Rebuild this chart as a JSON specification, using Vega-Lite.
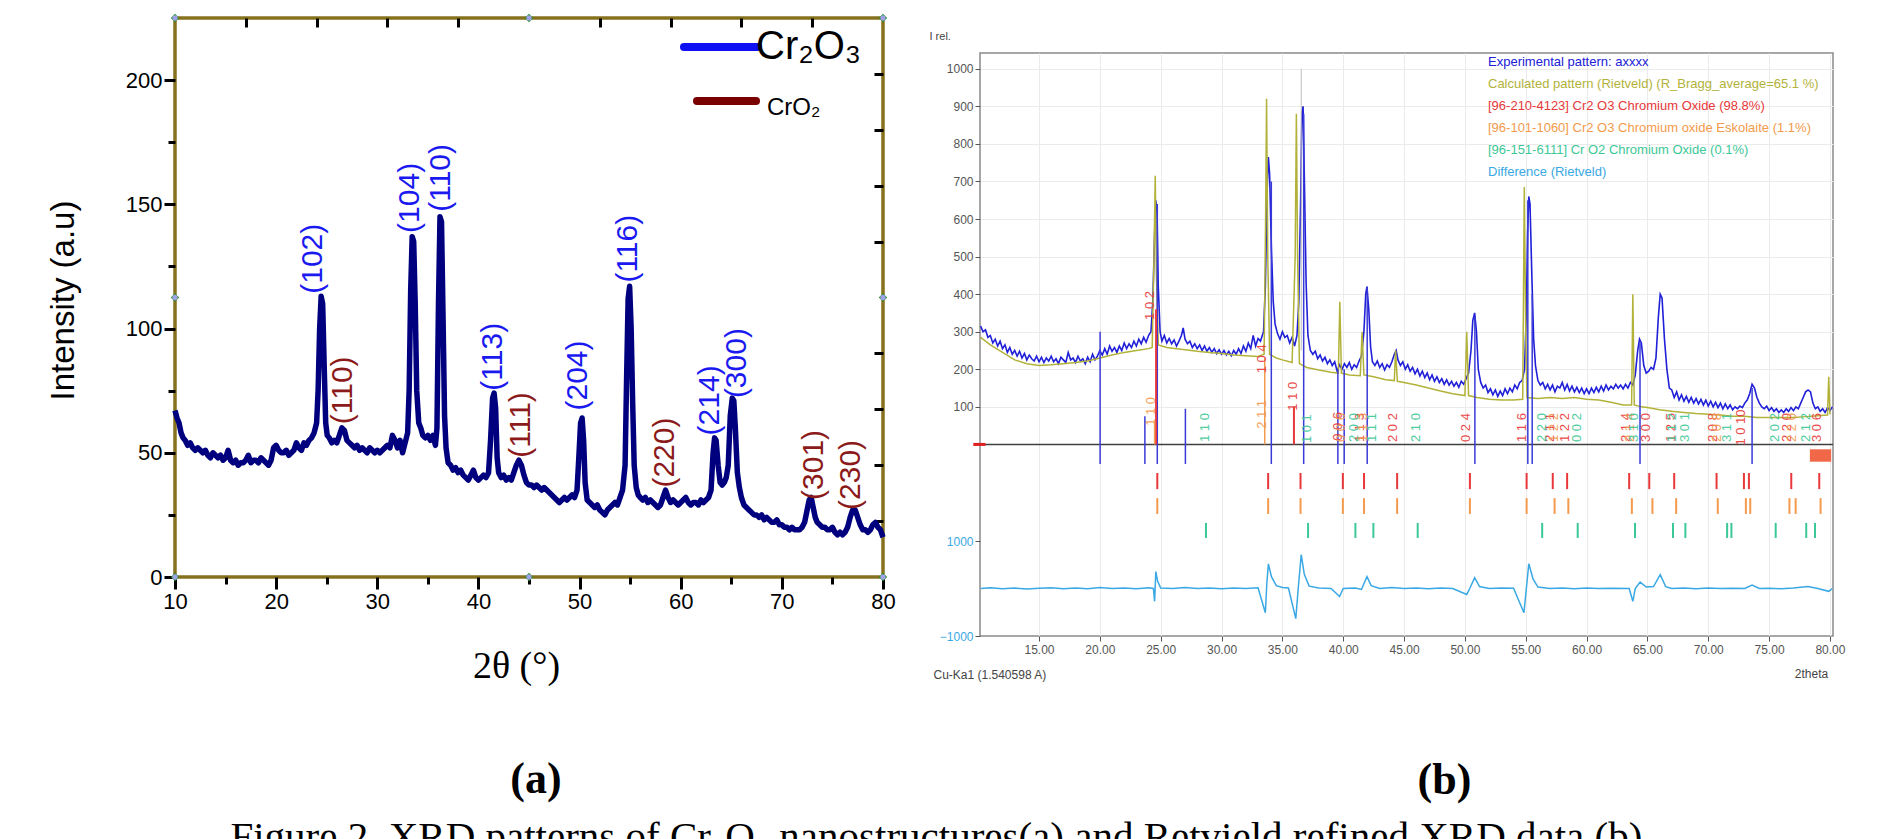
{
"$schema": "https://vega.github.io/schema/vega-lite/v6.json",
"background": "white",
"padding": {"left": 45, "top": 12, "right": 0, "bottom": 0},
"config": {"view": {"stroke": null}, "font": "Liberation Sans", "axis": {"labelFlush": false}},
"bounds": "flush",
"spacing": 97,
"resolve": {"scale": {"color": "independent"}, "legend": {"color": "independent"}},
"title": {"text": "Figure 2. XRD patterns of Cr₂O₃ nanostructures(a) and Retvield refined XRD data (b).", "orient": "bottom", "anchor": "middle", "font": "Liberation Serif", "fontSize": 41, "fontWeight": "normal", "color": "black", "offset": 14, "dx": -4},
"datasets": {
"a_xrd": [
{"t":10.0,"i":67},{"t":10.2,"i":64},{"t":10.4,"i":62},{"t":10.6,"i":58},{"t":10.8,"i":56},{"t":11.0,"i":55},{"t":11.25,"i":53},{"t":11.5,"i":54},{"t":11.75,"i":52},{"t":12.0,"i":51},{"t":12.25,"i":52},{"t":12.5,"i":51},{"t":12.75,"i":50},{"t":13.0,"i":51},{"t":13.25,"i":49},{"t":13.5,"i":48},{"t":13.75,"i":50},{"t":14.0,"i":49},{"t":14.25,"i":48},{"t":14.5,"i":49},{"t":14.75,"i":47},{"t":15.0,"i":48},{"t":15.25,"i":51},{"t":15.5,"i":47},{"t":15.75,"i":46},{"t":16.0,"i":47},{"t":16.25,"i":45},{"t":16.5,"i":46},{"t":16.75,"i":46},{"t":17.0,"i":47},{"t":17.25,"i":49},{"t":17.5,"i":46},{"t":17.75,"i":47},{"t":18.0,"i":47},{"t":18.25,"i":46},{"t":18.5,"i":48},{"t":18.75,"i":47},{"t":19.0,"i":46},{"t":19.25,"i":45},{"t":19.5,"i":47},{"t":19.75,"i":52},{"t":20.0,"i":53},{"t":20.25,"i":51},{"t":20.5,"i":50},{"t":20.75,"i":50},{"t":21.0,"i":51},{"t":21.25,"i":49},{"t":21.5,"i":50},{"t":21.75,"i":51},{"t":22.0,"i":54},{"t":22.25,"i":52},{"t":22.5,"i":51},{"t":22.75,"i":54},{"t":23.0,"i":53},{"t":23.25,"i":55},{"t":23.5,"i":56},{"t":23.75,"i":58},{"t":24.0,"i":62},{"t":24.15,"i":75},{"t":24.3,"i":100},{"t":24.45,"i":113},{"t":24.6,"i":110},{"t":24.75,"i":85},{"t":24.9,"i":62},{"t":25.05,"i":57},{"t":25.25,"i":56},{"t":25.5,"i":54},{"t":25.75,"i":55},{"t":26.0,"i":54},{"t":26.25,"i":57},{"t":26.5,"i":60},{"t":26.75,"i":59},{"t":27.0,"i":55},{"t":27.25,"i":54},{"t":27.5,"i":53},{"t":27.75,"i":52},{"t":28.0,"i":53},{"t":28.25,"i":51},{"t":28.5,"i":52},{"t":28.75,"i":51},{"t":29.0,"i":50},{"t":29.25,"i":52},{"t":29.5,"i":51},{"t":29.75,"i":50},{"t":30.0,"i":51},{"t":30.25,"i":50},{"t":30.5,"i":51},{"t":30.75,"i":52},{"t":31.0,"i":53},{"t":31.25,"i":52},{"t":31.5,"i":57},{"t":31.75,"i":55},{"t":32.0,"i":52},{"t":32.25,"i":55},{"t":32.5,"i":50},{"t":32.75,"i":54},{"t":33.0,"i":58},{"t":33.15,"i":75},{"t":33.3,"i":115},{"t":33.45,"i":137},{"t":33.6,"i":135},{"t":33.75,"i":110},{"t":33.9,"i":75},{"t":34.1,"i":62},{"t":34.3,"i":60},{"t":34.5,"i":57},{"t":34.75,"i":56},{"t":35.0,"i":57},{"t":35.25,"i":55},{"t":35.5,"i":57},{"t":35.75,"i":53},{"t":35.9,"i":60},{"t":36.05,"i":110},{"t":36.2,"i":145},{"t":36.35,"i":143},{"t":36.5,"i":105},{"t":36.65,"i":65},{"t":36.8,"i":52},{"t":37.0,"i":46},{"t":37.25,"i":45},{"t":37.5,"i":43},{"t":37.75,"i":44},{"t":38.0,"i":42},{"t":38.25,"i":43},{"t":38.5,"i":41},{"t":38.75,"i":40},{"t":39.0,"i":39},{"t":39.25,"i":41},{"t":39.5,"i":43},{"t":39.75,"i":40},{"t":40.0,"i":39},{"t":40.25,"i":40},{"t":40.5,"i":41},{"t":40.75,"i":40},{"t":41.0,"i":42},{"t":41.2,"i":55},{"t":41.4,"i":72},{"t":41.55,"i":74},{"t":41.7,"i":68},{"t":41.85,"i":48},{"t":42.0,"i":42},{"t":42.25,"i":40},{"t":42.5,"i":41},{"t":42.75,"i":39},{"t":43.0,"i":40},{"t":43.25,"i":39},{"t":43.5,"i":42},{"t":43.75,"i":45},{"t":44.0,"i":47},{"t":44.25,"i":45},{"t":44.5,"i":41},{"t":44.75,"i":38},{"t":45.0,"i":37},{"t":45.25,"i":37},{"t":45.5,"i":36},{"t":45.75,"i":37},{"t":46.0,"i":36},{"t":46.25,"i":35},{"t":46.5,"i":36},{"t":46.75,"i":35},{"t":47.0,"i":34},{"t":47.25,"i":33},{"t":47.5,"i":32},{"t":47.75,"i":31},{"t":48.0,"i":30},{"t":48.25,"i":31},{"t":48.5,"i":32},{"t":48.75,"i":31},{"t":49.0,"i":32},{"t":49.25,"i":33},{"t":49.5,"i":32},{"t":49.75,"i":35},{"t":49.95,"i":50},{"t":50.1,"i":62},{"t":50.25,"i":64},{"t":50.4,"i":55},{"t":50.55,"i":38},{"t":50.75,"i":31},{"t":51.0,"i":30},{"t":51.25,"i":29},{"t":51.5,"i":28},{"t":51.75,"i":29},{"t":52.0,"i":27},{"t":52.25,"i":26},{"t":52.5,"i":25},{"t":52.75,"i":27},{"t":53.0,"i":28},{"t":53.25,"i":29},{"t":53.5,"i":30},{"t":53.75,"i":29},{"t":54.0,"i":32},{"t":54.25,"i":35},{"t":54.5,"i":45},{"t":54.65,"i":80},{"t":54.8,"i":112},{"t":54.95,"i":117},{"t":55.1,"i":100},{"t":55.25,"i":70},{"t":55.4,"i":45},{"t":55.6,"i":36},{"t":55.8,"i":33},{"t":56.0,"i":32},{"t":56.25,"i":31},{"t":56.5,"i":32},{"t":56.75,"i":30},{"t":57.0,"i":31},{"t":57.25,"i":30},{"t":57.5,"i":29},{"t":57.75,"i":28},{"t":58.0,"i":29},{"t":58.25,"i":32},{"t":58.5,"i":35},{"t":58.75,"i":32},{"t":59.0,"i":30},{"t":59.25,"i":31},{"t":59.5,"i":30},{"t":59.75,"i":29},{"t":60.0,"i":30},{"t":60.25,"i":31},{"t":60.5,"i":32},{"t":60.75,"i":30},{"t":61.0,"i":29},{"t":61.25,"i":30},{"t":61.5,"i":30},{"t":61.75,"i":29},{"t":62.0,"i":31},{"t":62.25,"i":30},{"t":62.5,"i":31},{"t":62.75,"i":32},{"t":63.0,"i":35},{"t":63.2,"i":50},{"t":63.35,"i":56},{"t":63.5,"i":55},{"t":63.7,"i":45},{"t":63.9,"i":38},{"t":64.1,"i":37},{"t":64.3,"i":38},{"t":64.5,"i":40},{"t":64.7,"i":45},{"t":64.9,"i":65},{"t":65.1,"i":72},{"t":65.25,"i":71},{"t":65.4,"i":60},{"t":65.6,"i":42},{"t":65.8,"i":36},{"t":66.0,"i":32},{"t":66.25,"i":29},{"t":66.5,"i":28},{"t":66.75,"i":27},{"t":67.0,"i":26},{"t":67.25,"i":25},{"t":67.5,"i":25},{"t":67.75,"i":24},{"t":68.0,"i":25},{"t":68.25,"i":23},{"t":68.5,"i":24},{"t":68.75,"i":23},{"t":69.0,"i":22},{"t":69.25,"i":22},{"t":69.5,"i":23},{"t":69.75,"i":21},{"t":70.0,"i":21},{"t":70.25,"i":20},{"t":70.5,"i":20},{"t":70.75,"i":19},{"t":71.0,"i":20},{"t":71.25,"i":19},{"t":71.5,"i":19},{"t":71.75,"i":19},{"t":72.0,"i":20},{"t":72.25,"i":22},{"t":72.5,"i":27},{"t":72.7,"i":31},{"t":72.9,"i":32},{"t":73.1,"i":28},{"t":73.3,"i":24},{"t":73.5,"i":22},{"t":73.75,"i":21},{"t":74.0,"i":20},{"t":74.25,"i":20},{"t":74.5,"i":19},{"t":74.75,"i":19},{"t":75.0,"i":20},{"t":75.25,"i":18},{"t":75.5,"i":17},{"t":75.75,"i":18},{"t":76.0,"i":17},{"t":76.25,"i":18},{"t":76.5,"i":20},{"t":76.75,"i":24},{"t":77.0,"i":27},{"t":77.25,"i":27},{"t":77.5,"i":24},{"t":77.75,"i":21},{"t":78.0,"i":19},{"t":78.25,"i":19},{"t":78.5,"i":18},{"t":78.75,"i":19},{"t":79.0,"i":21},{"t":79.25,"i":22},{"t":79.5,"i":20},{"t":79.75,"i":19},{"t":80.0,"i":16}
],
"a_lbl": [
{"t":23.6,"i":114,"hkl":"(102)","phase":"Cr₂O₃"},
{"t":26.6,"i":61.5,"hkl":"(110)","phase":"CrO₂"},
{"t":33.2,"i":138.5,"hkl":"(104)","phase":"Cr₂O₃"},
{"t":36.3,"i":147,"hkl":"(110)","phase":"Cr₂O₃"},
{"t":41.4,"i":75,"hkl":"(113)","phase":"Cr₂O₃"},
{"t":44.2,"i":48,"hkl":"(111)","phase":"CrO₂"},
{"t":49.8,"i":67,"hkl":"(204)","phase":"Cr₂O₃"},
{"t":54.8,"i":118.5,"hkl":"(116)","phase":"Cr₂O₃"},
{"t":58.45,"i":36,"hkl":"(220)","phase":"CrO₂"},
{"t":62.9,"i":57,"hkl":"(214)","phase":"Cr₂O₃"},
{"t":65.6,"i":72,"hkl":"(300)","phase":"Cr₂O₃"},
{"t":73.2,"i":31,"hkl":"(301)","phase":"CrO₂"},
{"t":76.85,"i":27,"hkl":"(230)","phase":"CrO₂"}
],
"a_handles": [{"t":10,"i":0},{"t":45,"i":0},{"t":80,"i":0},{"t":10,"i":112.5},{"t":80,"i":112.5},{"t":10,"i":225},{"t":45,"i":225},{"t":80,"i":225}],
"b_exp": [
{"t":10.2,"v":315},{"t":10.4,"v":300},{"t":10.6,"v":305},{"t":10.8,"v":285},{"t":11.0,"v":290},{"t":11.2,"v":270},{"t":11.4,"v":280},{"t":11.6,"v":262},{"t":11.8,"v":275},{"t":12.0,"v":255},{"t":12.2,"v":265},{"t":12.4,"v":245},{"t":12.6,"v":258},{"t":12.8,"v":240},{"t":13.0,"v":250},{"t":13.2,"v":235},{"t":13.4,"v":248},{"t":13.6,"v":230},{"t":13.8,"v":242},{"t":14.0,"v":225},{"t":14.2,"v":238},{"t":14.4,"v":228},{"t":14.6,"v":222},{"t":14.8,"v":235},{"t":15.0,"v":220},{"t":15.2,"v":232},{"t":15.4,"v":218},{"t":15.6,"v":230},{"t":15.8,"v":222},{"t":16.0,"v":235},{"t":16.2,"v":220},{"t":16.4,"v":228},{"t":16.6,"v":215},{"t":16.8,"v":232},{"t":17.0,"v":225},{"t":17.2,"v":218},{"t":17.4,"v":245},{"t":17.6,"v":225},{"t":17.8,"v":230},{"t":18.0,"v":218},{"t":18.2,"v":235},{"t":18.4,"v":222},{"t":18.6,"v":228},{"t":18.8,"v":215},{"t":19.0,"v":232},{"t":19.2,"v":220},{"t":19.4,"v":240},{"t":19.6,"v":225},{"t":19.8,"v":235},{"t":20.0,"v":250},{"t":20.2,"v":238},{"t":20.4,"v":255},{"t":20.6,"v":240},{"t":20.8,"v":262},{"t":21.0,"v":248},{"t":21.2,"v":258},{"t":21.4,"v":245},{"t":21.6,"v":262},{"t":21.8,"v":250},{"t":22.0,"v":270},{"t":22.2,"v":255},{"t":22.4,"v":268},{"t":22.6,"v":258},{"t":22.8,"v":275},{"t":23.0,"v":262},{"t":23.2,"v":280},{"t":23.4,"v":268},{"t":23.6,"v":285},{"t":23.8,"v":272},{"t":24.0,"v":290},{"t":24.2,"v":300},{"t":24.35,"v":380},{"t":24.5,"v":560},{"t":24.6,"v":650},{"t":24.7,"v":620},{"t":24.8,"v":420},{"t":24.95,"v":300},{"t":25.1,"v":275},{"t":25.3,"v":290},{"t":25.5,"v":270},{"t":25.7,"v":282},{"t":25.9,"v":268},{"t":26.1,"v":278},{"t":26.3,"v":262},{"t":26.5,"v":275},{"t":26.7,"v":290},{"t":26.85,"v":310},{"t":27.0,"v":280},{"t":27.2,"v":268},{"t":27.4,"v":275},{"t":27.6,"v":258},{"t":27.8,"v":268},{"t":28.0,"v":255},{"t":28.2,"v":265},{"t":28.4,"v":250},{"t":28.6,"v":262},{"t":28.8,"v":248},{"t":29.0,"v":258},{"t":29.2,"v":245},{"t":29.4,"v":255},{"t":29.6,"v":242},{"t":29.8,"v":252},{"t":30.0,"v":240},{"t":30.2,"v":250},{"t":30.4,"v":238},{"t":30.6,"v":248},{"t":30.8,"v":236},{"t":31.0,"v":250},{"t":31.2,"v":240},{"t":31.4,"v":255},{"t":31.6,"v":242},{"t":31.8,"v":262},{"t":32.0,"v":248},{"t":32.2,"v":270},{"t":32.4,"v":255},{"t":32.6,"v":290},{"t":32.8,"v":262},{"t":33.0,"v":282},{"t":33.2,"v":275},{"t":33.45,"v":300},{"t":33.6,"v":420},{"t":33.75,"v":680},{"t":33.85,"v":765},{"t":33.95,"v":720},{"t":34.1,"v":520},{"t":34.25,"v":380},{"t":34.4,"v":320},{"t":34.6,"v":295},{"t":34.8,"v":280},{"t":35.0,"v":300},{"t":35.2,"v":285},{"t":35.4,"v":290},{"t":35.6,"v":270},{"t":35.8,"v":285},{"t":36.0,"v":262},{"t":36.2,"v":290},{"t":36.35,"v":380},{"t":36.5,"v":650},{"t":36.6,"v":880},{"t":36.7,"v":900},{"t":36.8,"v":720},{"t":36.95,"v":430},{"t":37.1,"v":290},{"t":37.3,"v":250},{"t":37.5,"v":240},{"t":37.7,"v":248},{"t":37.9,"v":228},{"t":38.1,"v":238},{"t":38.3,"v":222},{"t":38.5,"v":232},{"t":38.7,"v":215},{"t":38.9,"v":225},{"t":39.1,"v":210},{"t":39.3,"v":220},{"t":39.5,"v":195},{"t":39.7,"v":212},{"t":39.9,"v":200},{"t":40.1,"v":215},{"t":40.3,"v":205},{"t":40.5,"v":218},{"t":40.7,"v":200},{"t":40.9,"v":212},{"t":41.1,"v":205},{"t":41.3,"v":222},{"t":41.5,"v":235},{"t":41.7,"v":300},{"t":41.85,"v":400},{"t":41.95,"v":420},{"t":42.1,"v":360},{"t":42.25,"v":260},{"t":42.4,"v":220},{"t":42.6,"v":210},{"t":42.8,"v":222},{"t":43.0,"v":205},{"t":43.2,"v":215},{"t":43.4,"v":198},{"t":43.6,"v":212},{"t":43.8,"v":205},{"t":44.0,"v":220},{"t":44.2,"v":240},{"t":44.35,"v":250},{"t":44.5,"v":225},{"t":44.7,"v":210},{"t":44.9,"v":220},{"t":45.1,"v":200},{"t":45.3,"v":212},{"t":45.5,"v":195},{"t":45.7,"v":205},{"t":45.9,"v":188},{"t":46.1,"v":200},{"t":46.3,"v":182},{"t":46.5,"v":195},{"t":46.7,"v":178},{"t":46.9,"v":190},{"t":47.1,"v":172},{"t":47.3,"v":185},{"t":47.5,"v":168},{"t":47.7,"v":180},{"t":47.9,"v":165},{"t":48.1,"v":175},{"t":48.3,"v":160},{"t":48.5,"v":172},{"t":48.7,"v":158},{"t":48.9,"v":168},{"t":49.1,"v":155},{"t":49.3,"v":165},{"t":49.5,"v":152},{"t":49.7,"v":168},{"t":49.9,"v":160},{"t":50.1,"v":175},{"t":50.3,"v":190},{"t":50.5,"v":250},{"t":50.65,"v":330},{"t":50.8,"v":350},{"t":50.95,"v":300},{"t":51.1,"v":200},{"t":51.3,"v":165},{"t":51.5,"v":150},{"t":51.7,"v":158},{"t":51.9,"v":138},{"t":52.1,"v":148},{"t":52.3,"v":132},{"t":52.5,"v":145},{"t":52.7,"v":128},{"t":52.9,"v":142},{"t":53.1,"v":130},{"t":53.3,"v":148},{"t":53.5,"v":135},{"t":53.7,"v":150},{"t":53.9,"v":140},{"t":54.1,"v":158},{"t":54.3,"v":148},{"t":54.5,"v":165},{"t":54.7,"v":170},{"t":54.9,"v":200},{"t":55.05,"v":350},{"t":55.15,"v":560},{"t":55.25,"v":660},{"t":55.35,"v":640},{"t":55.5,"v":450},{"t":55.65,"v":280},{"t":55.8,"v":210},{"t":56.0,"v":170},{"t":56.2,"v":158},{"t":56.4,"v":165},{"t":56.6,"v":148},{"t":56.8,"v":160},{"t":57.0,"v":145},{"t":57.2,"v":158},{"t":57.4,"v":140},{"t":57.6,"v":155},{"t":57.8,"v":150},{"t":58.0,"v":165},{"t":58.2,"v":145},{"t":58.4,"v":160},{"t":58.6,"v":142},{"t":58.8,"v":155},{"t":59.0,"v":140},{"t":59.2,"v":152},{"t":59.4,"v":138},{"t":59.6,"v":150},{"t":59.8,"v":135},{"t":60.0,"v":148},{"t":60.2,"v":135},{"t":60.4,"v":150},{"t":60.6,"v":138},{"t":60.8,"v":152},{"t":61.0,"v":140},{"t":61.2,"v":155},{"t":61.4,"v":142},{"t":61.6,"v":158},{"t":61.8,"v":145},{"t":62.0,"v":155},{"t":62.2,"v":148},{"t":62.4,"v":160},{"t":62.6,"v":150},{"t":62.8,"v":158},{"t":63.0,"v":148},{"t":63.2,"v":160},{"t":63.4,"v":150},{"t":63.6,"v":165},{"t":63.8,"v":158},{"t":64.0,"v":185},{"t":64.2,"v":250},{"t":64.35,"v":280},{"t":64.5,"v":270},{"t":64.7,"v":210},{"t":64.9,"v":190},{"t":65.1,"v":195},{"t":65.3,"v":205},{"t":65.5,"v":200},{"t":65.7,"v":230},{"t":65.9,"v":340},{"t":66.05,"v":400},{"t":66.2,"v":390},{"t":66.4,"v":280},{"t":66.6,"v":200},{"t":66.8,"v":150},{"t":67.0,"v":145},{"t":67.2,"v":125},{"t":67.4,"v":140},{"t":67.6,"v":118},{"t":67.8,"v":132},{"t":68.0,"v":115},{"t":68.2,"v":128},{"t":68.4,"v":112},{"t":68.6,"v":125},{"t":68.8,"v":110},{"t":69.0,"v":122},{"t":69.2,"v":108},{"t":69.4,"v":120},{"t":69.6,"v":105},{"t":69.8,"v":118},{"t":70.0,"v":102},{"t":70.2,"v":115},{"t":70.4,"v":100},{"t":70.6,"v":112},{"t":70.8,"v":98},{"t":71.0,"v":110},{"t":71.2,"v":95},{"t":71.4,"v":108},{"t":71.6,"v":95},{"t":71.8,"v":105},{"t":72.0,"v":92},{"t":72.2,"v":100},{"t":72.4,"v":95},{"t":72.6,"v":102},{"t":72.8,"v":98},{"t":73.0,"v":110},{"t":73.2,"v":118},{"t":73.4,"v":135},{"t":73.6,"v":160},{"t":73.8,"v":150},{"t":74.0,"v":125},{"t":74.2,"v":110},{"t":74.4,"v":100},{"t":74.6,"v":95},{"t":74.8,"v":102},{"t":75.0,"v":90},{"t":75.2,"v":98},{"t":75.4,"v":88},{"t":75.6,"v":95},{"t":75.8,"v":85},{"t":76.0,"v":92},{"t":76.2,"v":85},{"t":76.4,"v":95},{"t":76.6,"v":88},{"t":76.8,"v":98},{"t":77.0,"v":90},{"t":77.2,"v":100},{"t":77.4,"v":95},{"t":77.6,"v":110},{"t":77.8,"v":125},{"t":78.0,"v":140},{"t":78.2,"v":145},{"t":78.4,"v":140},{"t":78.6,"v":110},{"t":78.8,"v":95},{"t":79.0,"v":100},{"t":79.2,"v":88},{"t":79.4,"v":95},{"t":79.6,"v":85},{"t":79.8,"v":98},{"t":80.0,"v":90},{"t":80.2,"v":100}
],
"b_calc": [
{"t":10.2,"v":285},{"t":11,"v":265},{"t":12,"v":245},{"t":13,"v":225},{"t":14,"v":215},{"t":15,"v":210},{"t":16,"v":212},{"t":17,"v":215},{"t":18,"v":218},{"t":19,"v":222},{"t":20,"v":230},{"t":21,"v":238},{"t":22,"v":245},{"t":23,"v":250},{"t":24,"v":255},{"t":24.3,"v":258},{"t":24.45,"v":500},{"t":24.55,"v":715},{"t":24.65,"v":450},{"t":24.8,"v":265},{"t":25.5,"v":258},{"t":27,"v":252},{"t":28,"v":248},{"t":29,"v":245},{"t":30,"v":242},{"t":31,"v":238},{"t":32,"v":236},{"t":33,"v":234},{"t":33.5,"v":240},{"t":33.62,"v":600},{"t":33.7,"v":920},{"t":33.8,"v":500},{"t":33.95,"v":240},{"t":34.5,"v":230},{"t":35,"v":225},{"t":35.8,"v":218},{"t":36.05,"v":500},{"t":36.15,"v":880},{"t":36.25,"v":500},{"t":36.4,"v":215},{"t":37,"v":205},{"t":38,"v":198},{"t":39,"v":192},{"t":39.6,"v":190},{"t":39.72,"v":380},{"t":39.85,"v":190},{"t":40.5,"v":185},{"t":41.4,"v":183},{"t":41.55,"v":300},{"t":41.7,"v":185},{"t":42.5,"v":180},{"t":43.5,"v":172},{"t":44.2,"v":170},{"t":44.3,"v":250},{"t":44.45,"v":168},{"t":45,"v":165},{"t":46,"v":158},{"t":47,"v":150},{"t":48,"v":142},{"t":49,"v":135},{"t":50,"v":130},{"t":50.15,"v":300},{"t":50.3,"v":130},{"t":51,"v":125},{"t":52,"v":120},{"t":53,"v":118},{"t":54,"v":118},{"t":54.75,"v":120},{"t":54.88,"v":685},{"t":55.0,"v":300},{"t":55.1,"v":125},{"t":56,"v":122},{"t":57,"v":125},{"t":58,"v":122},{"t":59,"v":125},{"t":60,"v":120},{"t":61,"v":118},{"t":62,"v":112},{"t":63,"v":105},{"t":63.7,"v":105},{"t":63.8,"v":400},{"t":63.92,"v":105},{"t":64.5,"v":100},{"t":65,"v":98},{"t":66,"v":92},{"t":67,"v":88},{"t":68,"v":85},{"t":69,"v":82},{"t":70,"v":80},{"t":71,"v":78},{"t":72,"v":75},{"t":73,"v":75},{"t":74,"v":72},{"t":75,"v":72},{"t":76,"v":72},{"t":77,"v":72},{"t":78,"v":74},{"t":79,"v":76},{"t":79.8,"v":78},{"t":79.9,"v":180},{"t":80.0,"v":80}
],
"b_diff": [
{"t":10.2,"d":0},{"t":11,"d":15},{"t":12,"d":-5},{"t":13,"d":10},{"t":14,"d":-10},{"t":15,"d":5},{"t":16,"d":15},{"t":17,"d":-5},{"t":18,"d":10},{"t":19,"d":-5},{"t":20,"d":20},{"t":21,"d":0},{"t":22,"d":10},{"t":23,"d":-5},{"t":24,"d":15},{"t":24.4,"d":0},{"t":24.5,"d":-270},{"t":24.6,"d":356},{"t":24.75,"d":150},{"t":25,"d":10},{"t":26,"d":0},{"t":27,"d":20},{"t":28,"d":0},{"t":29,"d":10},{"t":30,"d":-5},{"t":31,"d":10},{"t":32,"d":0},{"t":33,"d":15},{"t":33.6,"d":-510},{"t":33.72,"d":100},{"t":33.85,"d":520},{"t":34.1,"d":250},{"t":34.5,"d":60},{"t":35,"d":20},{"t":35.5,"d":10},{"t":36.1,"d":-635},{"t":36.3,"d":0},{"t":36.55,"d":712},{"t":36.8,"d":300},{"t":37.2,"d":50},{"t":38,"d":10},{"t":39,"d":0},{"t":39.7,"d":-170},{"t":40,"d":0},{"t":41,"d":10},{"t":41.5,"d":-20},{"t":41.95,"d":250},{"t":42.3,"d":60},{"t":43,"d":0},{"t":44,"d":20},{"t":45,"d":0},{"t":46,"d":10},{"t":47,"d":-5},{"t":48,"d":10},{"t":49,"d":0},{"t":50.15,"d":-125},{"t":50.4,"d":0},{"t":50.8,"d":230},{"t":51.2,"d":40},{"t":52,"d":0},{"t":53,"d":10},{"t":54,"d":5},{"t":54.85,"d":-510},{"t":55.05,"d":0},{"t":55.25,"d":520},{"t":55.6,"d":200},{"t":56,"d":30},{"t":57,"d":0},{"t":58,"d":10},{"t":59,"d":-5},{"t":60,"d":10},{"t":61,"d":0},{"t":62,"d":5},{"t":63.5,"d":0},{"t":63.8,"d":-270},{"t":64.0,"d":0},{"t":64.4,"d":135},{"t":64.9,"d":30},{"t":65.5,"d":40},{"t":66.05,"d":290},{"t":66.5,"d":40},{"t":67,"d":0},{"t":68,"d":10},{"t":69,"d":-5},{"t":70,"d":10},{"t":71,"d":0},{"t":72,"d":5},{"t":73,"d":0},{"t":73.6,"d":70},{"t":74.2,"d":0},{"t":75,"d":5},{"t":76,"d":-5},{"t":77,"d":10},{"t":78.2,"d":40},{"t":79,"d":0},{"t":79.9,"d":-60},{"t":80.2,"d":0}
],
"b_blue": [{"t":20.02,"v":300},{"t":23.7,"v":75},{"t":24.72,"v":640},{"t":27.03,"v":95},{"t":34.09,"v":700},{"t":36.75,"v":880},{"t":39.56,"v":200},{"t":40.08,"v":200},{"t":41.97,"v":420},{"t":50.82,"v":340},{"t":55.17,"v":650},{"t":55.53,"v":400},{"t":64.39,"v":270},{"t":73.6,"v":150}],
"b_red": [{"t":24.72},{"t":33.83},{"t":36.49},{"t":39.97},{"t":41.71},{"t":44.43},{"t":50.41},{"t":55.07},{"t":57.22},{"t":58.4},{"t":63.5},{"t":65.15},{"t":67.2},{"t":70.68},{"t":72.93},{"t":73.34},{"t":76.82},{"t":79.12}],
"b_orange": [{"t":24.72},{"t":33.83},{"t":36.49},{"t":39.97},{"t":41.71},{"t":44.43},{"t":50.41},{"t":55.07},{"t":57.37},{"t":58.5},{"t":63.72},{"t":65.41},{"t":67.36},{"t":70.78},{"t":73.09},{"t":73.45},{"t":76.67},{"t":77.18},{"t":79.23}],
"b_green": [{"t":28.72},{"t":37.11},{"t":41.0},{"t":42.48},{"t":46.12},{"t":56.35},{"t":59.27},{"t":63.98},{"t":67.1},{"t":68.12},{"t":71.55},{"t":71.9},{"t":75.54},{"t":78.05},{"t":78.77}],
"b_tallR": [{"t":24.62,"v":360},{"t":35.95,"v":100}],
"b_tallO": [{"t":33.55,"v":230},{"t":24.5,"v":60}],
"b_hklR": [{"t":24.15,"v":370,"s":"1 0 2"},{"t":33.3,"v":228,"s":"1 0 4"},{"t":35.85,"v":128,"s":"1 1 0"},{"t":39.55,"v":48,"s":"0 0 6"},{"t":41.35,"v":45,"s":"1 1 3"},{"t":44.1,"v":45,"s":"2 0 2"},{"t":50.05,"v":45,"s":"0 2 4"},{"t":54.7,"v":45,"s":"1 1 6"},{"t":57.0,"v":45,"s":"2 1 1"},{"t":58.2,"v":45,"s":"1 2 2"},{"t":63.2,"v":45,"s":"2 1 4"},{"t":64.85,"v":45,"s":"3 0 0"},{"t":66.95,"v":45,"s":"1 2 5"},{"t":70.4,"v":45,"s":"2 0 8"},{"t":72.7,"v":45,"s":"1 0 10"},{"t":76.5,"v":45,"s":"2 2 0"},{"t":78.9,"v":45,"s":"3 0 6"}],
"b_hklO": [{"t":24.2,"v":88,"s":"1 1 0"},{"t":33.3,"v":80,"s":"2 1 1"},{"t":39.8,"v":45,"s":"0 0 6"},{"t":41.6,"v":45,"s":"1 1 3"},{"t":57.3,"v":45,"s":"1 2 2"},{"t":63.55,"v":45,"s":"2 1 4"},{"t":70.7,"v":45,"s":"2 0 8"},{"t":76.9,"v":45,"s":"2 2 0"}],
"b_hklG": [{"t":28.65,"v":45,"s":"1 1 0"},{"t":37.0,"v":42,"s":"1 0 1"},{"t":40.9,"v":45,"s":"2 0 0"},{"t":42.4,"v":45,"s":"1 1 1"},{"t":46.0,"v":45,"s":"2 1 0"},{"t":56.3,"v":45,"s":"2 2 0"},{"t":59.2,"v":45,"s":"0 0 2"},{"t":63.9,"v":45,"s":"3 1 0"},{"t":67.0,"v":45,"s":"1 1 2"},{"t":68.1,"v":45,"s":"3 0 1"},{"t":71.5,"v":45,"s":"3 1 1"},{"t":75.5,"v":45,"s":"2 0 2"},{"t":78.0,"v":45,"s":"2 1 2"}]
},
"hconcat": [
{
 "width": 708, "height": 559,
 "view": {"stroke": "#86711f", "strokeWidth": 3.5},
 "title": {"text": "(a)", "orient": "bottom", "anchor": "middle", "font": "Liberation Serif", "fontSize": 44, "fontWeight": "bold", "color": "black", "offset": 73, "dx": 7},
 "resolve": {"axis": {"x": "independent", "y": "independent"}},
 "layer": [
  {
   "data": {"name": "a_xrd"},
   "mark": {"type": "line", "color": "#00007f", "strokeWidth": 5.5, "strokeJoin": "round"},
   "encoding": {
    "x": {"field": "t", "type": "quantitative", "scale": {"domain": [10, 80], "nice": false, "zero": false},
     "axis": {"orient": "bottom", "values": [10,20,30,40,50,60,70,80], "labelFontSize": 22, "labelColor": "black", "labelFont": "Liberation Sans", "tickSize": 12, "tickWidth": 3, "tickColor": "black", "labelPadding": 2, "domain": false, "grid": false,
      "title": "2θ (°)", "titleFont": "Liberation Serif", "titleFontSize": 38, "titleFontWeight": "normal", "titleColor": "black", "titleX": 341, "titleY": 89, "titleAlign": "center", "titleBaseline": "middle"}},
    "y": {"field": "i", "type": "quantitative", "scale": {"domain": [0, 225], "nice": false, "zero": false},
     "axis": {"orient": "left", "values": [0,50,100,150,200], "labelFontSize": 22, "labelColor": "black", "labelFont": "Liberation Sans", "tickSize": 11, "tickWidth": 3, "tickColor": "black", "labelPadding": 2, "domain": false, "grid": false,
      "title": "Intensity (a.u)", "titleFont": "Liberation Sans", "titleFontSize": 33, "titleFontWeight": "normal", "titleColor": "black", "titleX": -112, "titleY": 282, "titleAngle": 270, "titleAlign": "center", "titleBaseline": "middle"}}
   }
  },
  {
   "data": {"name": "a_lbl"},
   "mark": {"type": "text", "angle": 270, "align": "left", "baseline": "middle", "font": "Liberation Sans", "fontSize": 30},
   "encoding": {
    "x": {"field": "t", "type": "quantitative", "axis": {"orient": "bottom", "values": [15,25,35,45,55,65,75], "labels": false, "title": null, "tickSize": 7, "tickWidth": 3, "tickColor": "black", "domain": false, "grid": false}},
    "y": {"field": "i", "type": "quantitative", "axis": {"orient": "left", "values": [25,75,125,175], "labels": false, "title": null, "tickSize": 7, "tickWidth": 3, "tickColor": "black", "domain": false, "grid": false}},
    "text": {"field": "hkl"},
    "color": {"field": "phase", "type": "nominal", "scale": {"domain": ["Cr₂O₃", "CrO₂"], "range": ["#1a1af0", "#8b1a1a"]},
     "legend": {"orient": "none", "legendX": 532, "legendY": 15, "title": null, "padding": 0, "symbolType": "M-3.7,0H3.7", "symbolSize": 400, "symbolStrokeWidth": 8, "labelFont": "Liberation Sans", "labelFontSize": 30, "labelColor": "black", "labelOffset": 21, "rowPadding": 18, "labelLimit": 0,
      "encode": {
       "symbols": {"update": {"stroke": {"signal": "datum.index === 0 ? '#1010f5' : '#7a0000'"}, "fill": {"value": "transparent"}, "strokeWidth": {"value": 8}, "strokeCap": {"value": "round"}, "opacity": {"value": 1}, "strokeOpacity": {"value": 1}, "shape": {"signal": "datum.index === 0 ? 'M-3.7,0H3.7' : 'M-2.4,0H3.5'"}}},
       "labels": {"update": {"fontSize": {"signal": "datum.index === 0 ? 40 : 24"}, "dx": {"signal": "datum.index === 0 ? 0 : 11"}, "dy": {"signal": "datum.index === 0 ? 0 : 7"}}}}}}
   }
  },
  {
   "data": {"name": "a_handles"},
   "mark": {"type": "point", "shape": "diamond", "filled": true, "color": "#22922a", "size": 70, "opacity": 1},
   "encoding": {
    "x": {"field": "t", "type": "quantitative", "axis": {"orient": "top", "values": [17,24,31,38,52,59,66,73], "labels": false, "title": null, "tickSize": -9, "tickWidth": 3, "tickColor": "black", "domain": false, "grid": false}},
    "y": {"field": "i", "type": "quantitative", "axis": {"orient": "right", "values": [22.5,45,67.5,90,135,157.5,180,202.5], "labels": false, "title": null, "tickSize": -9, "tickWidth": 3, "tickColor": "black", "domain": false, "grid": false}}
   }
  },
  {
   "data": {"name": "a_handles"},
   "mark": {"type": "point", "shape": "circle", "filled": true, "color": "#a9a2f2", "size": 28, "opacity": 0.95},
   "encoding": {
    "x": {"field": "t", "type": "quantitative", "axis": null},
    "y": {"field": "i", "type": "quantitative", "axis": null}
   }
  }
 ]
},
{
 "vconcat": [
  {"width": 853, "height": 35, "data": {"values": [{"k": 1}]}, "mark": {"type": "point", "opacity": 0}, "encoding": {}},
  {
   "width": 853, "height": 583,
   "view": {"stroke": "#8a8a8a", "strokeWidth": 1.5},
   "title": {"text": "(b)", "orient": "bottom", "anchor": "middle", "font": "Liberation Serif", "fontSize": 44, "fontWeight": "bold", "color": "black", "offset": 79, "dx": 38},
   "resolve": {"scale": {"y": "independent"}, "axis": {"y": "independent"}},
   "layer": [
    {
     "layer": [
      {
       "data": {"name": "b_exp"},
       "mark": {"type": "line", "strokeWidth": 1.6},
       "encoding": {
        "x": {"field": "t", "type": "quantitative", "scale": {"domain": [10.15, 80.25], "nice": false, "zero": false},
         "axis": {"orient": "bottom", "values": [15,20,25,30,35,40,45,50,55,60,65,70,75,80], "format": ".2f", "labelFontSize": 12, "labelColor": "#555555", "tickSize": 5, "tickColor": "#555555", "labelPadding": 3, "domain": false, "grid": true, "gridColor": "#ebebeb",
          "title": "2theta", "titleFontSize": 12, "titleFontWeight": "normal", "titleColor": "#444444", "titleX": 831, "titleY": 37, "titleAlign": "center", "titleBaseline": "middle"}},
        "y": {"field": "v", "type": "quantitative", "scale": {"domain": [-510, 1042], "nice": false, "zero": false},
         "axis": {"orient": "left", "values": [100,200,300,400,500,600,700,800,900,1000], "format": "d", "labelFontSize": 12, "labelColor": "#555555", "tickSize": 5, "tickColor": "#555555", "labelPadding": 2, "domain": false, "grid": true, "gridColor": "#ebebeb",
          "title": "I rel.", "titleAngle": 0, "titleX": -51, "titleY": -17, "titleAlign": "left", "titleBaseline": "middle", "titleFontSize": 11, "titleFontWeight": "normal", "titleColor": "#444444"}},
        "color": {"datum": "Experimental pattern: axxxx", "type": "nominal",
         "scale": {"domain": ["Experimental pattern: axxxx", "Calculated pattern (Rietveld) (R_Bragg_average=65.1 %)", "[96-210-4123] Cr2 O3 Chromium Oxide (98.8%)", "[96-101-1060] Cr2 O3 Chromium oxide Eskolaite (1.1%)", "[96-151-6111] Cr O2 Chromium Oxide (0.1%)", "Difference (Rietveld)"],
                   "range": ["#2020d8", "#b2b23a", "#e8383a", "#f39a4c", "#3cc896", "#3aa8e4"]},
         "legend": {"orient": "none", "legendX": 495, "legendY": 37, "title": null, "padding": 0, "symbolSize": 1, "symbolOpacity": 0, "symbolStrokeWidth": 0, "labelOffset": 0, "rowPadding": 8, "labelFontSize": 13, "labelFont": "Liberation Sans", "labelLimit": 0,
          "encode": {"labels": {"update": {"fill": {"signal": "['#2020d8','#b2b23a','#e8383a','#f39a4c','#3cc896','#3aa8e4'][datum.index]"}}}}}}
       }
      },
      {
       "data": {"name": "b_calc"},
       "mark": {"type": "line", "strokeWidth": 1.5},
       "encoding": {
        "x": {"field": "t", "type": "quantitative"},
        "y": {"field": "v", "type": "quantitative"},
        "color": {"datum": "Calculated pattern (Rietveld) (R_Bragg_average=65.1 %)", "type": "nominal"}
       }
      },
      {
       "data": {"values": [{"k": 1}]},
       "mark": {"type": "rule", "color": "#bdbdbd", "strokeWidth": 1},
       "encoding": {"x": {"datum": 36.55, "type": "quantitative"}, "y": {"datum": 250, "type": "quantitative"}, "y2": {"datum": 1000}}
      },
      {
       "data": {"values": [{"k": 1}]},
       "mark": {"type": "rule", "color": "#404040", "strokeWidth": 1.5},
       "encoding": {"y": {"datum": 0, "type": "quantitative"}}
      },
      {
       "data": {"values": [{"k": 1}]},
       "mark": {"type": "rule", "color": "#e02020", "strokeWidth": 3},
       "encoding": {"x": {"datum": 9.6, "type": "quantitative"}, "x2": {"datum": 10.6}, "y": {"datum": 0, "type": "quantitative"}}
      },
      {
       "data": {"name": "b_blue"},
       "mark": {"type": "rule", "color": "#3a3ad8", "strokeWidth": 1.5},
       "encoding": {"x": {"field": "t", "type": "quantitative"}, "y": {"field": "v", "type": "quantitative"}, "y2": {"datum": -52}}
      },
      {
       "data": {"name": "b_red"},
       "mark": {"type": "rule", "strokeWidth": 2},
       "encoding": {"x": {"field": "t", "type": "quantitative"}, "y": {"datum": -76, "type": "quantitative"}, "y2": {"datum": -119}, "color": {"datum": "[96-210-4123] Cr2 O3 Chromium Oxide (98.8%)", "type": "nominal"}}
      },
      {
       "data": {"name": "b_tallR"},
       "mark": {"type": "rule", "strokeWidth": 2},
       "encoding": {"x": {"field": "t", "type": "quantitative"}, "y": {"field": "v", "type": "quantitative"}, "y2": {"datum": 0}, "color": {"datum": "[96-210-4123] Cr2 O3 Chromium Oxide (98.8%)", "type": "nominal"}}
      },
      {
       "data": {"name": "b_orange"},
       "mark": {"type": "rule", "strokeWidth": 2},
       "encoding": {"x": {"field": "t", "type": "quantitative"}, "y": {"datum": -143, "type": "quantitative"}, "y2": {"datum": -185}, "color": {"datum": "[96-101-1060] Cr2 O3 Chromium oxide Eskolaite (1.1%)", "type": "nominal"}}
      },
      {
       "data": {"name": "b_tallO"},
       "mark": {"type": "rule", "strokeWidth": 1.5},
       "encoding": {"x": {"field": "t", "type": "quantitative"}, "y": {"field": "v", "type": "quantitative"}, "y2": {"datum": 0}, "color": {"datum": "[96-101-1060] Cr2 O3 Chromium oxide Eskolaite (1.1%)", "type": "nominal"}}
      },
      {
       "data": {"name": "b_green"},
       "mark": {"type": "rule", "strokeWidth": 2},
       "encoding": {"x": {"field": "t", "type": "quantitative"}, "y": {"datum": -209, "type": "quantitative"}, "y2": {"datum": -249}, "color": {"datum": "[96-151-6111] Cr O2 Chromium Oxide (0.1%)", "type": "nominal"}}
      },
      {
       "data": {"values": [{"k": 1}]},
       "mark": {"type": "rect", "color": "#f06848"},
       "encoding": {"x": {"datum": 78.35, "type": "quantitative"}, "x2": {"datum": 80.1}, "y": {"datum": -13, "type": "quantitative"}, "y2": {"datum": -46}}
      },
      {
       "data": {"name": "b_hklR"},
       "mark": {"type": "text", "angle": 270, "align": "center", "baseline": "middle", "fontSize": 13, "opacity": 0.9},
       "encoding": {"x": {"field": "t", "type": "quantitative"}, "y": {"field": "v", "type": "quantitative"}, "text": {"field": "s"}, "color": {"datum": "[96-210-4123] Cr2 O3 Chromium Oxide (98.8%)", "type": "nominal"}}
      },
      {
       "data": {"name": "b_hklO"},
       "mark": {"type": "text", "angle": 270, "align": "center", "baseline": "middle", "fontSize": 13, "opacity": 0.9},
       "encoding": {"x": {"field": "t", "type": "quantitative"}, "y": {"field": "v", "type": "quantitative"}, "text": {"field": "s"}, "color": {"datum": "[96-101-1060] Cr2 O3 Chromium oxide Eskolaite (1.1%)", "type": "nominal"}}
      },
      {
       "data": {"name": "b_hklG"},
       "mark": {"type": "text", "angle": 270, "align": "center", "baseline": "middle", "fontSize": 13, "opacity": 0.9},
       "encoding": {"x": {"field": "t", "type": "quantitative"}, "y": {"field": "v", "type": "quantitative"}, "text": {"field": "s"}, "color": {"datum": "[96-151-6111] Cr O2 Chromium Oxide (0.1%)", "type": "nominal"}}
      }
     ]
    },
    {
     "data": {"name": "b_diff"},
     "mark": {"type": "line", "strokeWidth": 1.5},
     "encoding": {
      "x": {"field": "t", "type": "quantitative"},
      "y": {"field": "d", "type": "quantitative", "scale": {"domain": [-1000, 1000], "range": [583, 488], "nice": false, "zero": false},
       "axis": {"orient": "left", "values": [-1000, 1000], "format": "d", "labelFontSize": 12, "labelColor": "#3aa8e4", "tickSize": 5, "tickColor": "#555555", "labelPadding": 2, "domain": false, "grid": false,
        "title": "Cu-Ka1 (1.540598 A)", "titleAngle": 0, "titleX": -47, "titleY": 621, "titleAlign": "left", "titleBaseline": "middle", "titleFontSize": 12, "titleFontWeight": "normal", "titleColor": "#444444"}},
      "color": {"datum": "Difference (Rietveld)", "type": "nominal"}
     }
    }
   ]
  }
 ],
 "spacing": 0,
 "bounds": "flush"
}
]
}
